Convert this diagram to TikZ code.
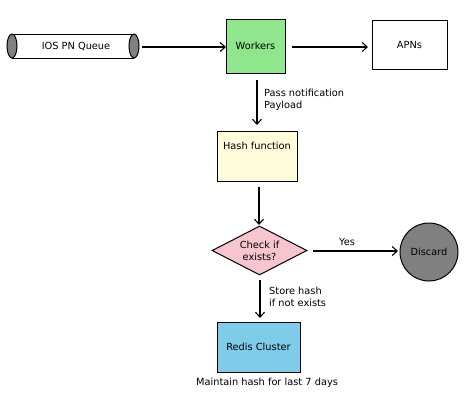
\documentclass[tikz,border=0pt]{standalone}
\usepackage{fontspec}
\setmainfont{DejaVu Sans}
\usetikzlibrary{arrows.meta,shapes.geometric}
\begin{document}
\begin{tikzpicture}[x=1pt,y=-1pt,
  every node/.style={font=\fontsize{9.8}{12}\selectfont, text=black},
  boxnode/.style={draw=black, line width=1pt, rectangle, inner sep=0pt},
  lbl/.style={align=left, anchor=west, inner sep=0pt},
  conn/.style={draw=black, line width=1.1pt, -{Straight Barb[length=5pt,width=9pt,line width=1.1pt]}}
]
\useasboundingbox (0,0) rectangle (474,402);
\definecolor{wgreen}{HTML}{90E68C}
\definecolor{hyellow}{HTML}{FFFCDC}
\definecolor{dpink}{HTML}{F7C5CD}
\definecolor{rblue}{HTML}{7FCBEA}
\definecolor{cgray}{HTML}{808080}
% queue cylinder
\fill[white] (12,34) rectangle (134,58);
\draw[line width=1pt] (12,34) -- (134,34) (12,58) -- (134,58);
\draw[line width=1pt, fill=cgray] (12,46) ellipse [x radius=5, y radius=12];
\draw[line width=1pt, fill=cgray] (134,46) ellipse [x radius=5, y radius=12];
\node (queue) at (76,46) [minimum width=134, minimum height=24, inner sep=0pt] {IOS PN Queue};
% boxes
\node (workers) at (255.5,46) [boxnode, fill=wgreen, minimum width=59, minimum height=54] {Workers};
\node (apns) at (409.5,44.5) [boxnode, fill=white, minimum width=75, minimum height=49] {APNs};
\node (hash) at (257,156) [boxnode, fill=hyellow, minimum width=80, minimum height=50] {};
\node at (257,146) {Hash function};
\node (check) at (259.5,250.5) [diamond, draw=black, line width=1pt, fill=dpink, minimum width=95, minimum height=49, inner sep=0pt, aspect=1.94] {};
\node at (259.5,250.5) [align=center] {Check if\\exists?};
\node (discard) at (429,252) [circle, draw=black, line width=1pt, fill=cgray, minimum size=58, inner sep=0pt] {Discard};
\node (redis) at (258.5,347) [boxnode, fill=rblue, minimum width=83, minimum height=50] {Redis Cluster};
% connectors
\coordinate (q1) at (142,47);
\coordinate (q2) at (226,47);
\draw[conn] (q1) -- (q2);
\coordinate (w1) at (292,47);
\coordinate (w2) at (368,47);
\draw[conn] (w1) -- (w2);
\coordinate (wd1) at (257,80);
\coordinate (wd2) at (257,125);
\draw[conn] (wd1) -- (wd2);
\coordinate (h1) at (259,187);
\coordinate (h2) at (259,225);
\draw[conn] (h1) -- (h2);
\coordinate (c1) at (313,251);
\coordinate (c2) at (398,251);
\draw[conn] (c1) -- (c2);
\coordinate (c3) at (260,280);
\coordinate (c4) at (260,318);
\draw[conn] (c3) -- (c4);
% labels
\node (l1) at (264,100) [lbl] {Pass notification\\Payload};
\node (l2) at (347,242) {Yes};
\node (l3) at (269,297) [lbl] {Store hash\\if not exists};
\node (l4) at (267,383) {Maintain hash for last 7 days};
\end{tikzpicture}
\end{document}
